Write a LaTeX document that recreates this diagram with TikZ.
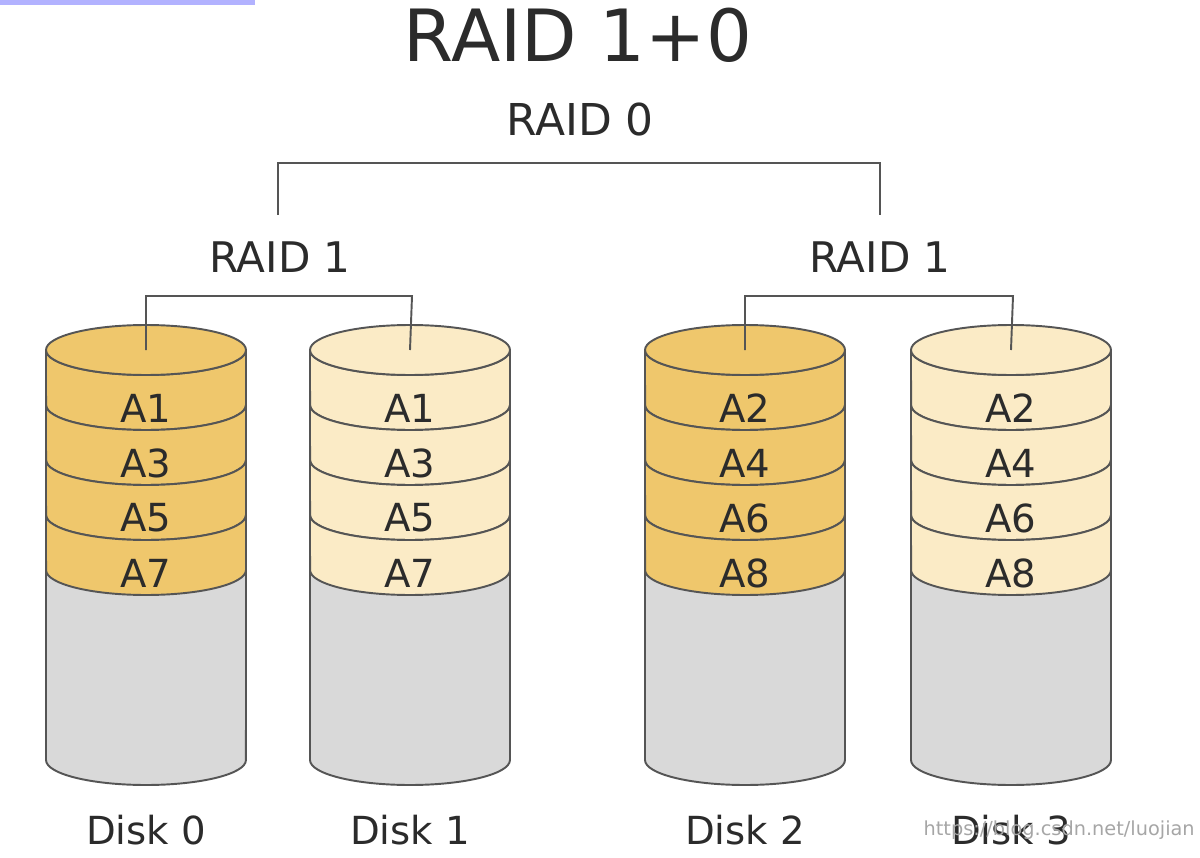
\documentclass[tikz,border=0pt]{standalone}
\usepackage{fontspec}
\setmainfont{DejaVu Sans}
\definecolor{gold}{HTML}{EFC76C}
\definecolor{pale}{HTML}{FBEBC6}
\definecolor{diskgray}{HTML}{D9D9D9}
\definecolor{edge}{HTML}{555555}
\definecolor{txt}{HTML}{2B2B2B}
\tikzset{diskline/.style={draw=edge,line width=1.1pt},
 wire/.style={draw=edge,line width=1.1pt},
 lbl/.style={text=txt,inner sep=0pt,font=\fontsize{22}{22}\selectfont},
 big/.style={text=txt,inner sep=0pt,font=\fontsize{41}{41}\selectfont}}
\newcommand\mydisk[7]{%
\begin{scope}[shift={(#1,0)}]
 \filldraw[diskline,fill=diskgray] (-100,350) -- (-100,760) arc[start angle=180,end angle=360,x radius=2cm,y radius=0.5cm] -- (100,350) -- cycle;
 \foreach \i/\t in {0/#3,1/#4,2/#5,3/#6}{
  \filldraw[diskline,fill=#2] (-100,{350+55*\i}) arc[start angle=180,end angle=360,x radius=2cm,y radius=0.5cm] -- (100,{405+55*\i}) arc[start angle=0,end angle=-180,x radius=2cm,y radius=0.5cm] -- cycle;
  \node[lbl] at (0,{408+55*\i}) {\t};
 }
 \filldraw[diskline,fill=#2] (0,350) ellipse[x radius=2cm,y radius=0.5cm];
 \coordinate (#7top) at (0,350);
\end{scope}}
\begin{document}
\begin{tikzpicture}[x=0.02cm,y=-0.02cm]
\useasboundingbox (0,0) rectangle (1200,858);
\fill[blue!30] (0,0) rectangle (255,5);
\node[big] (title) at (578,35) {RAID 1+0};
\node[lbl,font=\fontsize{25}{25}\selectfont] (r0) at (580,120) {RAID 0};
\node[lbl,font=\fontsize{24}{24}\selectfont] (r1a) at (280,257) {RAID 1};
\node[lbl,font=\fontsize{24}{24}\selectfont] (r1b) at (880,257) {RAID 1};
\coordinate (ja) at (278,215);
\coordinate (jb) at (880,215);
\draw[wire] (ja) -- (278,163) -- (880,163) -- (jb);
\mydisk{146}{gold}{A1}{A3}{A5}{A7}{d0}
\mydisk{410}{pale}{A1}{A3}{A5}{A7}{d1}
\mydisk{745}{gold}{A2}{A4}{A6}{A8}{d2}
\mydisk{1011}{pale}{A2}{A4}{A6}{A8}{d3}
\draw[wire] (d0top) -- (146,296) -- (412,296) -- (d1top);
\draw[wire] (d2top) -- (745,296) -- (1013,296) -- (d3top);
\foreach \n/\x/\t in {l0/146/Disk 0,l1/410/Disk 1,l2/745/Disk 2,l3/1011/Disk 3}
  \node[lbl] (\n) at (\x,830) {\t};
\node[text=gray!70,inner sep=0pt,font=\fontsize{11}{11}\selectfont,anchor=east] (wm) at (1195,830) {https://blog.csdn.net/luojian};
\end{tikzpicture}
\end{document}
